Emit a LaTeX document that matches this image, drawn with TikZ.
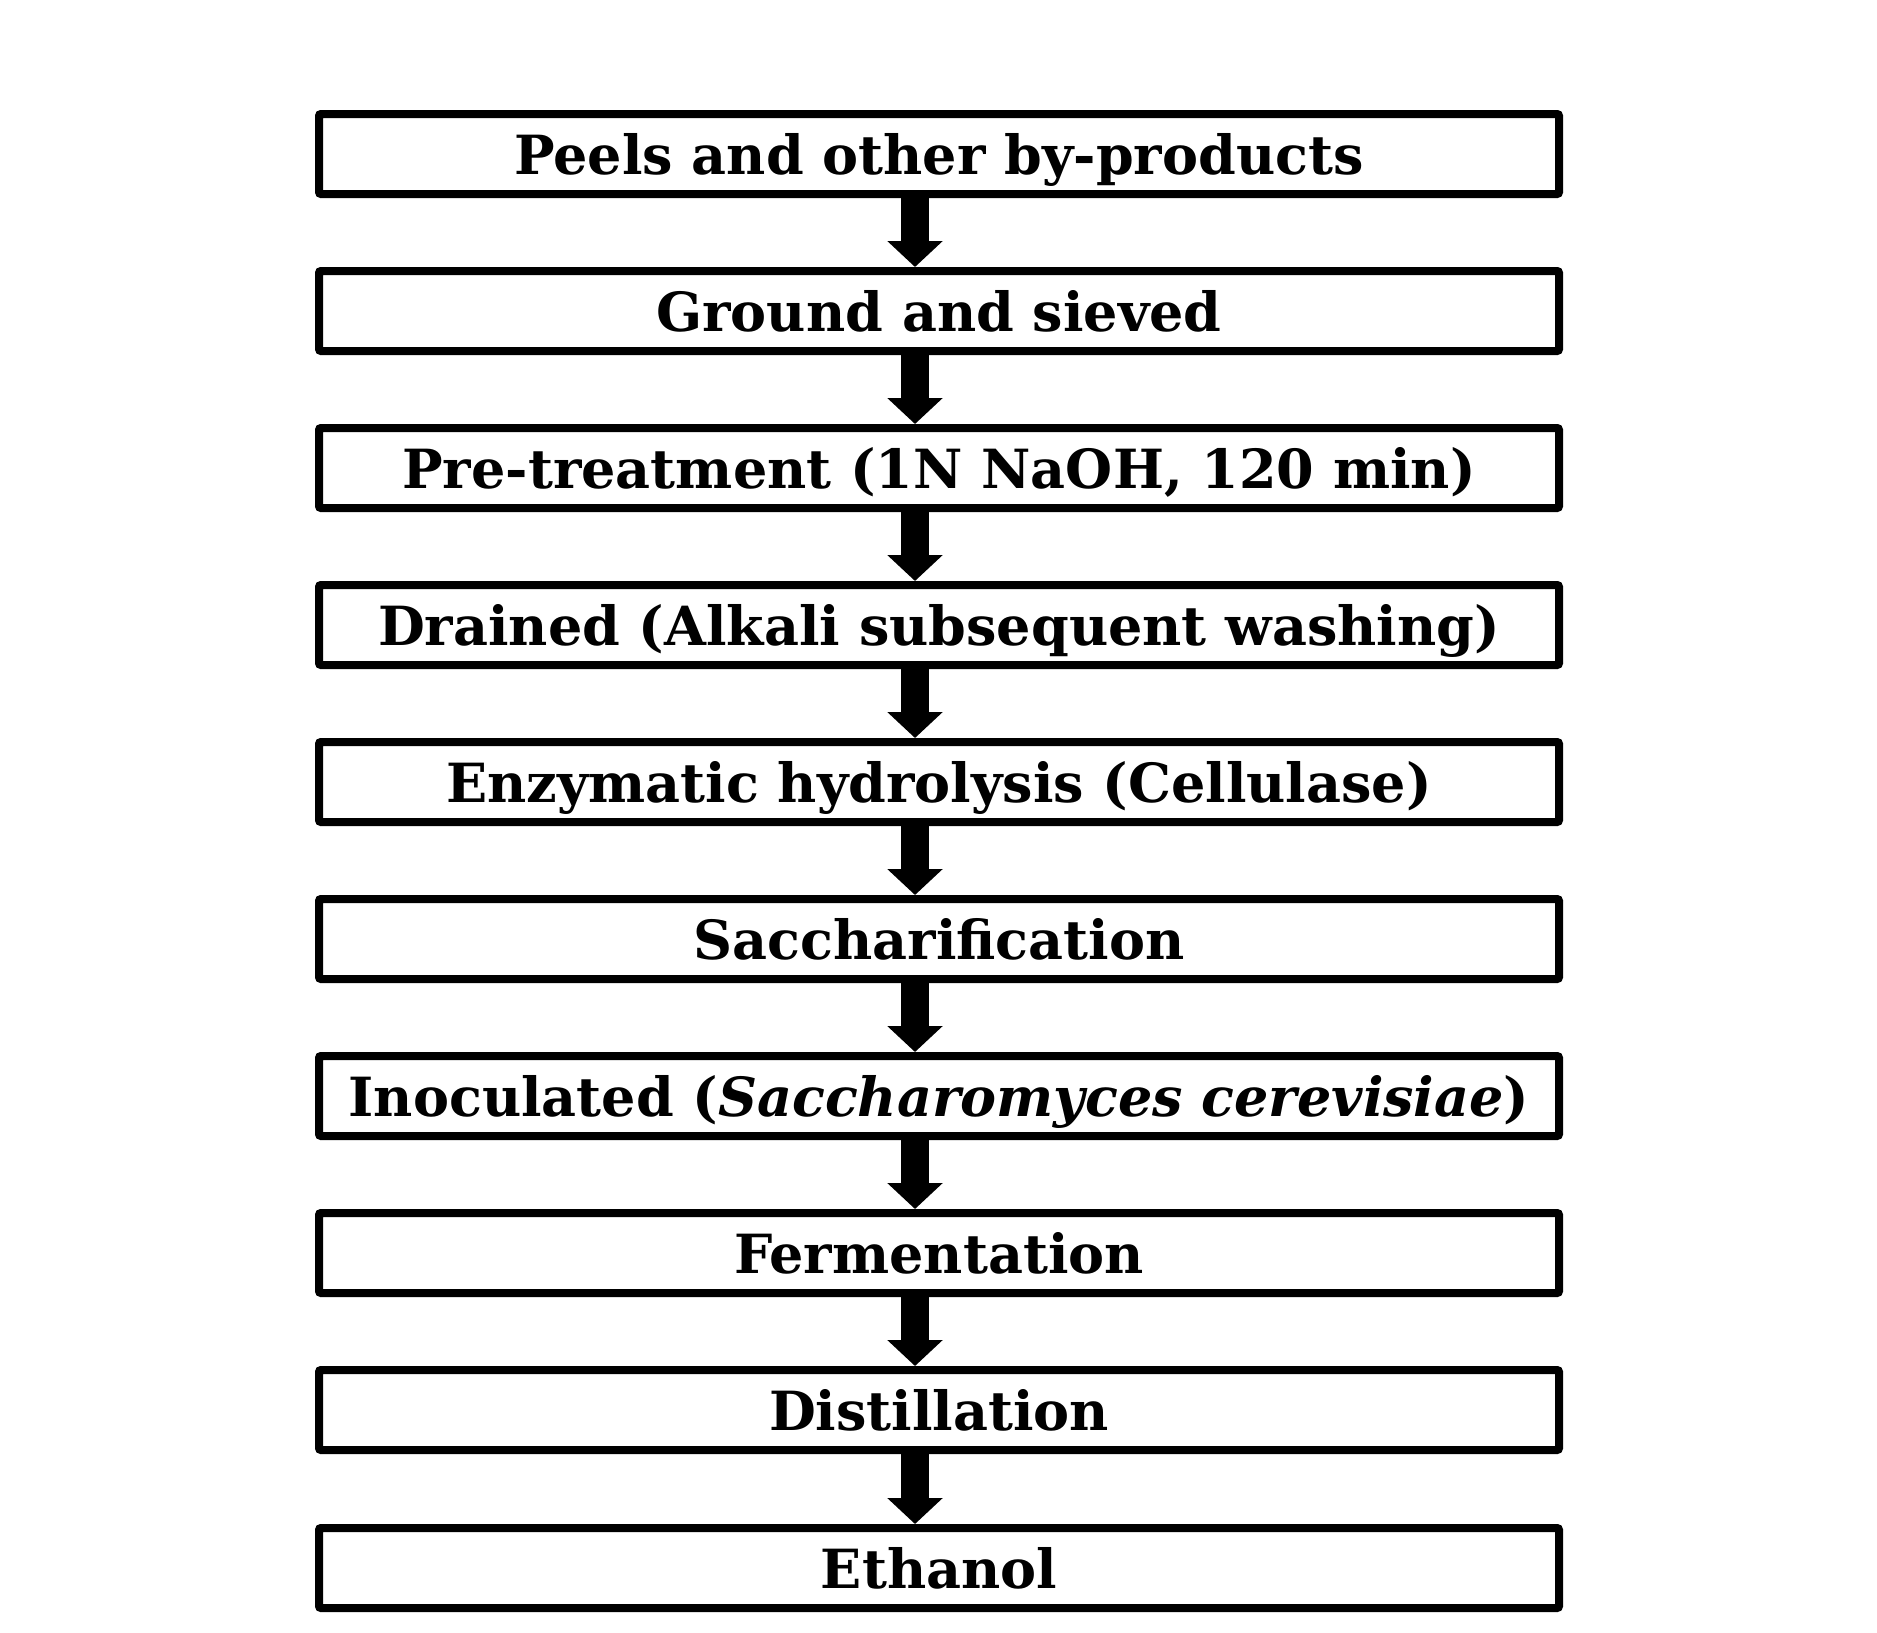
\documentclass[tikz,border=0pt]{standalone}
\usepackage{fontspec}
\setmainfont{DejaVu Serif}
\usetikzlibrary{arrows.meta}
\tikzset{
  stepbox/.style={draw=black, line width=8pt, rounded corners=2pt, fill=white,
    minimum width=1240pt, minimum height=80pt, inner sep=0pt,
    text height=40pt, text depth=0pt,
    font=\fontsize{54}{60}\selectfont\bfseries},
  flowarrow/.style={line width=28pt, -{Triangle[width=54pt,length=26pt]}}
}
\begin{document}
\begin{tikzpicture}[x=1pt,y=-1pt]
\useasboundingbox (0,0) rectangle (1877,1633);
\node[stepbox] (b1) at (939,154) {Peels and other by-products};
\node[stepbox] (b2) at (939,311) {Ground and sieved};
\node[stepbox] (b3) at (939,468) {Pre-treatment (1N NaOH, 120 min)};
\node[stepbox] (b4) at (939,625) {Drained (Alkali subsequent washing)};
\node[stepbox] (b5) at (939,782) {Enzymatic hydrolysis (Cellulase)};
\node[stepbox] (b6) at (939,939) {Saccharification};
\node[stepbox] (b7) at (939,1096) {Inoculated (\textit{Saccharomyces cerevisiae})};
\node[stepbox] (b8) at (939,1253) {Fermentation};
\node[stepbox] (b9) at (939,1410) {Distillation};
\node[stepbox] (b10) at (939,1568) {Ethanol};
\foreach \a/\b in {b1/b2,b2/b3,b3/b4,b4/b5,b5/b6,b6/b7,b7/b8,b8/b9,b9/b10}{
  \draw[flowarrow] ([xshift=-24pt]\a.south) -- ([xshift=-24pt]\b.north);
}
\end{tikzpicture}
\end{document}
